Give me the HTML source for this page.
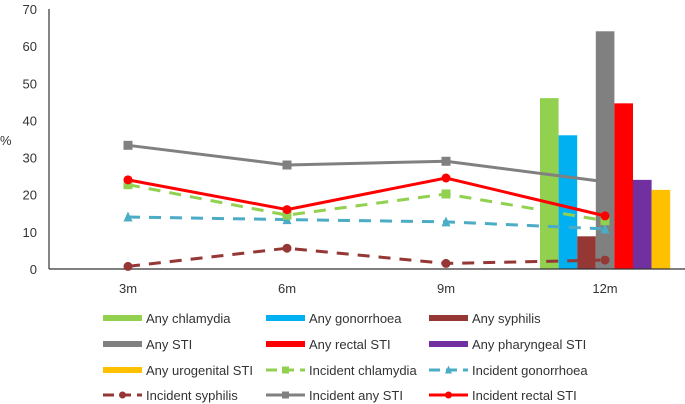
<!DOCTYPE html>
<html><head><meta charset="utf-8"><style>
body{margin:0;background:#fff;}
svg{display:block;font-family:"Liberation Sans",sans-serif;}
</style></head><body>
<svg id="chart" width="685" height="404"></svg>
<script>
const categories=["3m","6m","9m","12m"];
const yTicks=[0,10,20,30,40,50,60,70];
const barNames=["Any chlamydia","Any gonorrhoea","Any syphilis","Any STI","Any rectal STI","Any pharyngeal STI","Any urogenital STI"];
const barValues=[46,36,8.8,64,44.6,24,21.3];
const barColors=["#92d050","#00b0f0","#953735","#808080","#ff0000","#7030a0","#ffc000"];
const incChlamydia=[22.7,14.5,20.2,13];
const incGonorrhoea=[14,13.3,12.7,10.8];
const incSyphilis=[0.7,5.6,1.5,2.4];
const incAnySTI=[33.3,28,29,23.5];
const incRectal=[24,16,24.5,14.3];
const NS="http://www.w3.org/2000/svg";
const svg=document.getElementById('chart');
const x0=49,x1=685,y0=269,yTop=9;
function cx(i){return 128+i*159;}
function yPos(v){return y0-(v/70)*(y0-yTop);}
function el(t,a){const e=document.createElementNS(NS,t);for(const k in a)e.setAttribute(k,a[k]);svg.appendChild(e);return e;}
yTicks.forEach(v=>{const t=el('text',{x:37,y:yPos(v)+5,'text-anchor':'end','font-size':13,fill:'#333'});t.textContent=v;

});
const pc=el('text',{x:0,y:145,'font-size':13,fill:'#333'});pc.textContent='%';


categories.forEach((c,i)=>{const t=el('text',{x:cx(i),y:293,'text-anchor':'middle','font-size':13,fill:'#333'});t.textContent=c;

});
const bw=18.6,bstart=cx(3)-65;
barValues.forEach((v,i)=>{const r=el('rect',{x:bstart+i*bw,y:yPos(v),width:bw,height:y0-yPos(v),fill:barColors[i]});

});
el('line',{x1:x0,y1:yTop,x2:x0,y2:y0,stroke:'#333','stroke-width':1.2});
el('line',{x1:x0,y1:y0,x2:x1,y2:y0,stroke:'#333','stroke-width':1.2});
function marker(type,x,y,col,s){
 if(type==='sq')return el('rect',{x:x-s,y:y-s,width:2*s,height:2*s,fill:col});
 if(type==='ci')return el('circle',{cx:x,cy:y,r:s,fill:col});
 return el('polygon',{points:`${x},${y-s-1} ${x-s},${y+s} ${x+s},${y+s}`,fill:col});
}
const series=[
 {name:'incident-any-sti',d:incAnySTI,c:'#808080',dash:'',m:'sq'},
 {name:'incident-syphilis',d:incSyphilis,c:'#953735',dash:'12,9',m:'ci'},
 {name:'incident-gonorrhoea',d:incGonorrhoea,c:'#4bacc6',dash:'12,9',m:'tr'},
 {name:'incident-chlamydia',d:incChlamydia,c:'#92d050',dash:'12,9',m:'sq'},
 {name:'incident-rectal-sti',d:incRectal,c:'#ff0000',dash:'',m:'ci'}
];
series.forEach(s=>{
 const p=el('polyline',{points:s.d.map((v,i)=>cx(i)+','+yPos(v)).join(' '),fill:'none',stroke:s.c,'stroke-width':3,'stroke-dasharray':s.dash});
 
 
 s.d.forEach((v,i)=>{const m=marker(s.m,cx(i),yPos(v),s.c,4.5);
 
 });
});
const legend=[
 ['Any chlamydia','bar','#92d050'],['Any gonorrhoea','bar','#00b0f0'],['Any syphilis','bar','#953735'],
 ['Any STI','bar','#808080'],['Any rectal STI','bar','#ff0000'],['Any pharyngeal STI','bar','#7030a0'],
 ['Any urogenital STI','bar','#ffc000'],['Incident chlamydia','sq','#92d050','11,6'],['Incident gonorrhoea','tr','#4bacc6','11,6'],
 ['Incident syphilis','ci','#953735','11,6'],['Incident any STI','sq','#808080',''],['Incident rectal STI','ci','#ff0000','']
];
const colX=[103,266,429],rowY=[318,344,370,395];
legend.forEach((l,k)=>{
 const X=colX[k%3],Y=rowY[Math.floor(k/3)];
 let sw;
 if(l[1]==='bar'){sw=el('rect',{x:X,y:Y-3,width:39,height:6,fill:l[2]});}
 else{sw=el('line',{x1:X,y1:Y,x2:X+39,y2:Y,stroke:l[2],'stroke-width':3,'stroke-dasharray':l[3]});marker(l[1],X+19.5,Y,l[2],3.5);}
 
 
 const t=el('text',{x:X+43,y:Y+5,'font-size':13,fill:'#333'});t.textContent=l[0];
 
 
});
</script>
</body></html>
